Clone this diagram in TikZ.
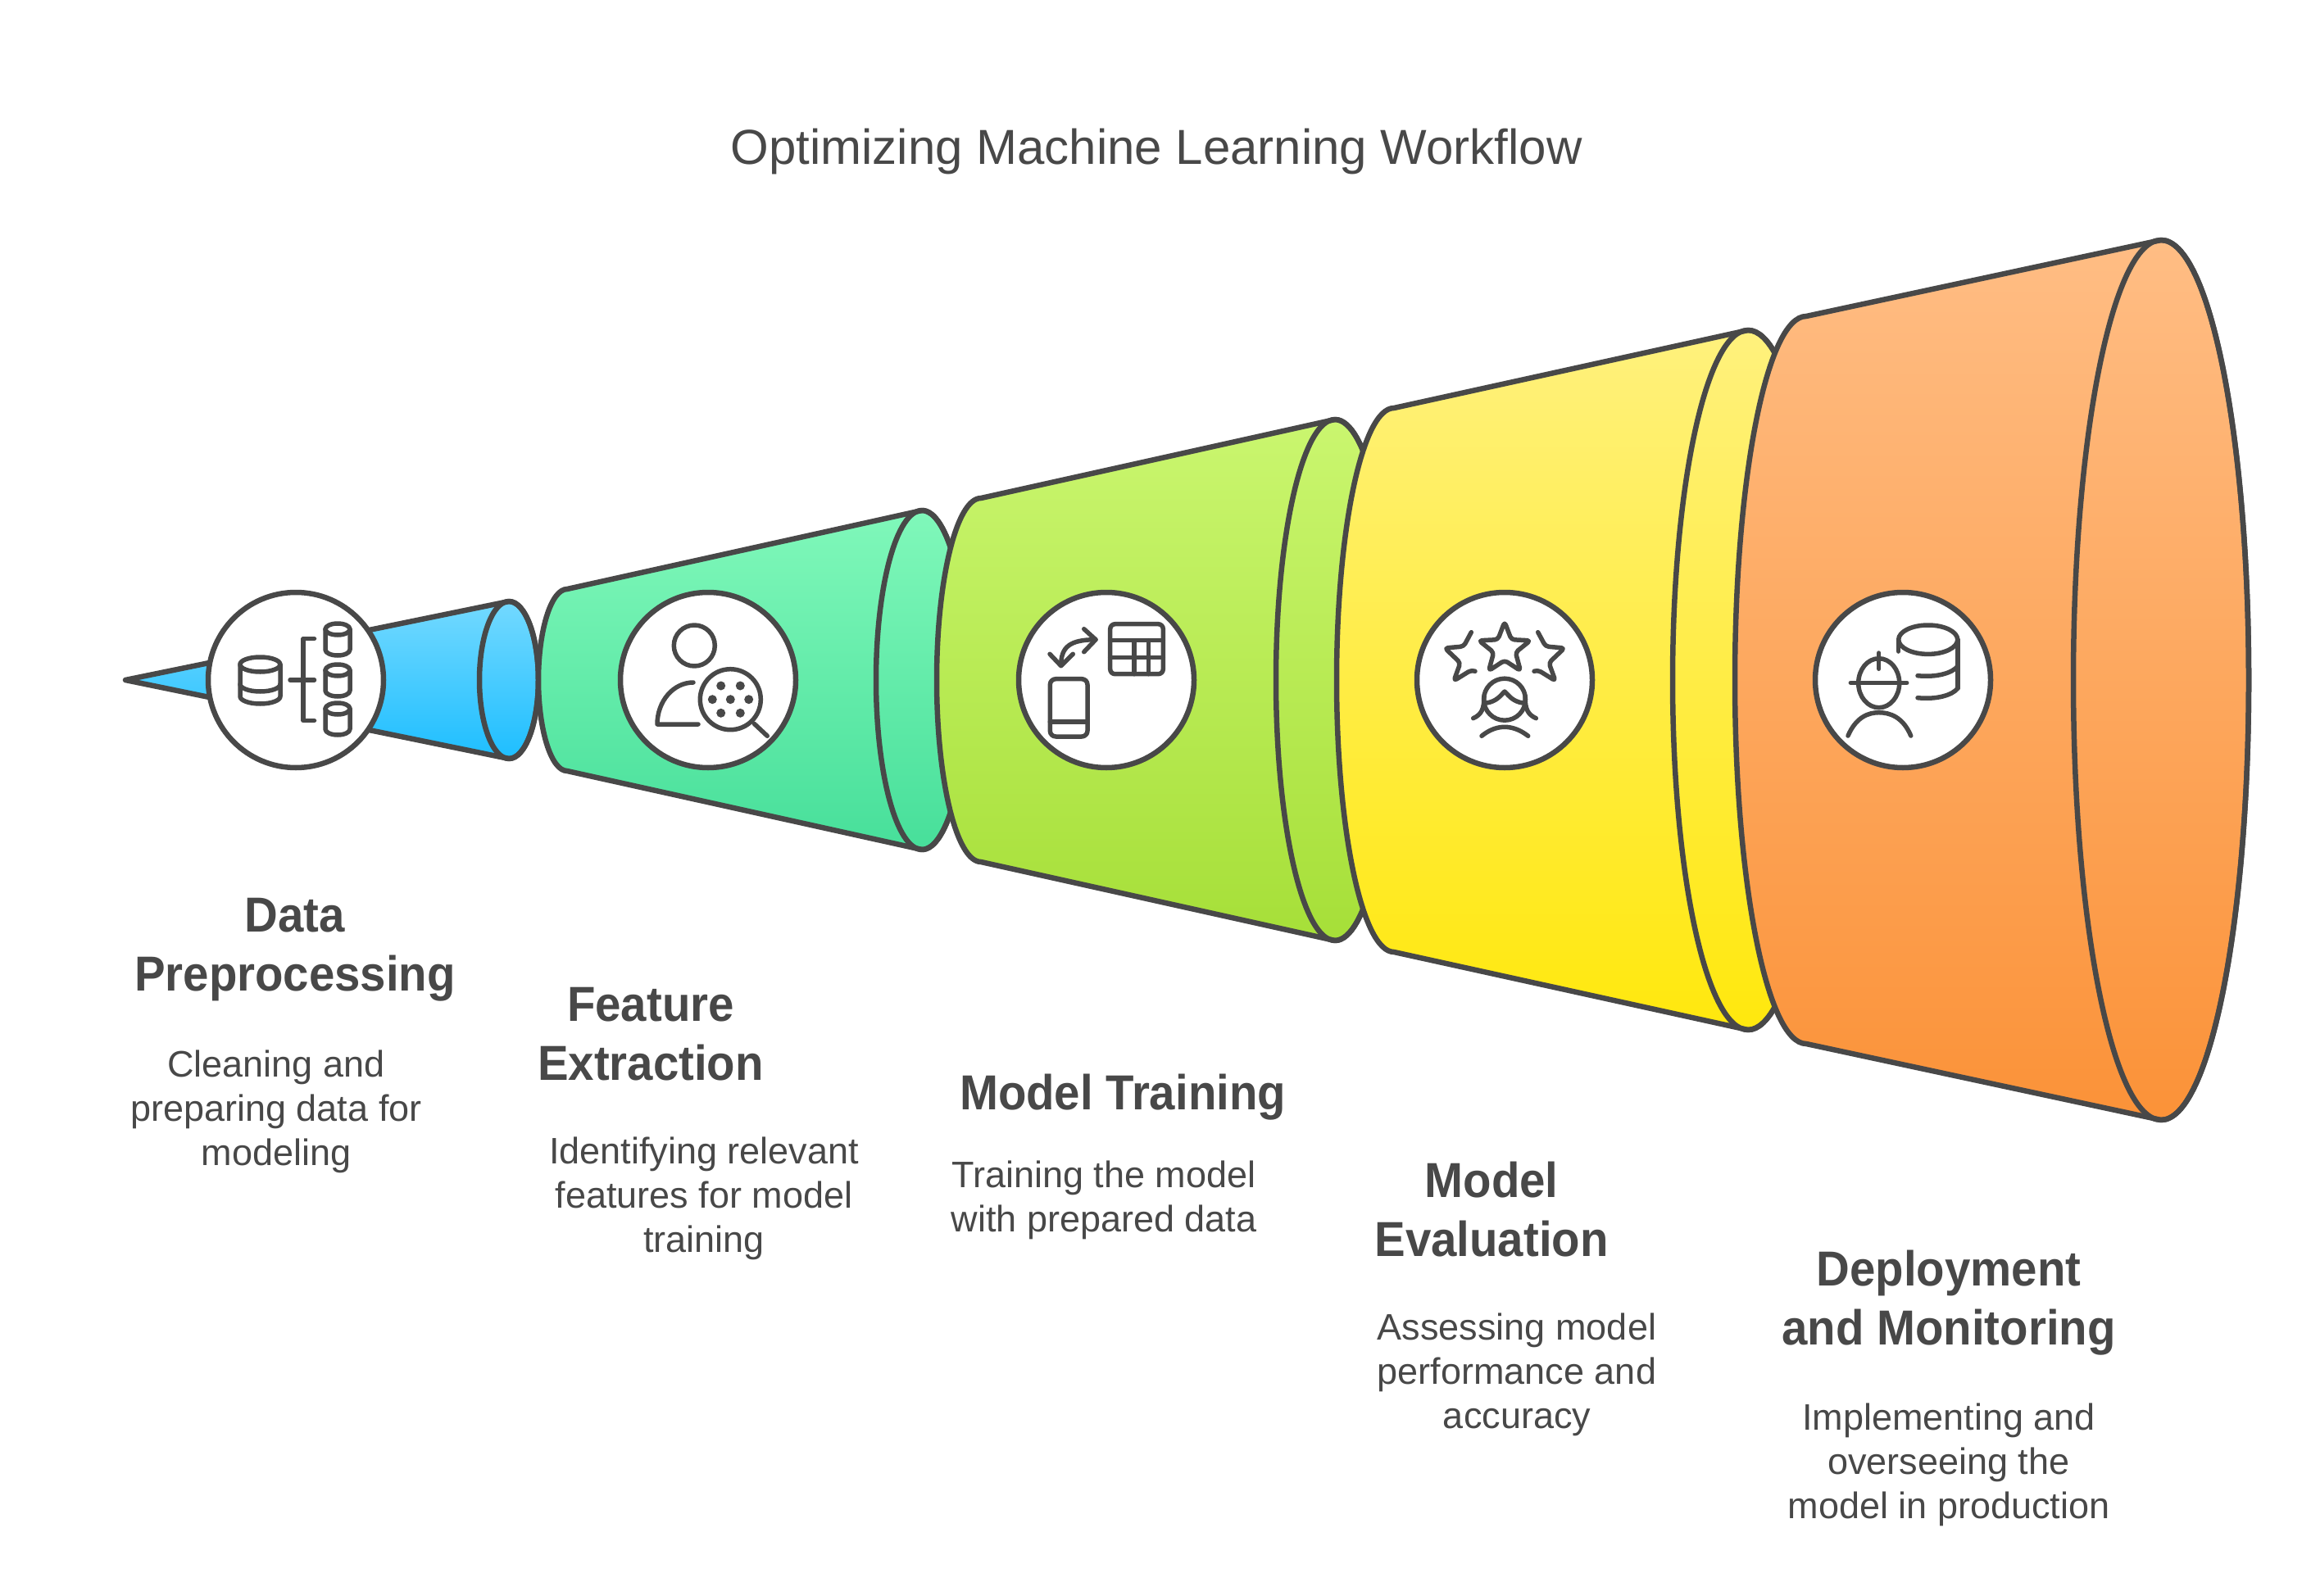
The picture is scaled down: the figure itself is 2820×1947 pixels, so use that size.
\documentclass[tikz,border=0pt]{standalone}
\usepackage{fontspec}
\usepackage{tikz}
\setmainfont{Liberation Sans}
\newfontfamily\headfont[FakeStretch=0.94]{Liberation Sans Bold}
\definecolor{inkgray}{HTML}{484848}
\definecolor{blueTop}{HTML}{73D9FF}
\definecolor{blueBot}{HTML}{1EBEFF}
\definecolor{greenTop}{HTML}{80F8BA}
\definecolor{greenBot}{HTML}{47DF9A}
\definecolor{limeTop}{HTML}{CAF66F}
\definecolor{limeBot}{HTML}{A6DF38}
\definecolor{yellowTop}{HTML}{FFF17D}
\definecolor{yellowBot}{HTML}{FFE80D}
\definecolor{orangeTop}{HTML}{FFBD84}
\definecolor{orangeBot}{HTML}{FB9238}

\begin{document}
\begin{tikzpicture}[x=1pt,y=1pt,node distance=198pt,line join=round]
	\tikzstyle{cone}=[draw=inkgray, line width=6.5pt]
	\tikzstyle{icon circle}=[circle, draw=inkgray, fill=white, line width=6.5pt, minimum size=214pt, inner sep=0pt]
	\tikzstyle{icon}=[draw=inkgray, line width=5.5pt, line cap=round, line join=round]
	\tikzstyle{head}=[align=center, text=inkgray, font=\headfont\fontsize{60}{72}\selectfont]
	\tikzstyle{body}=[align=center, text=inkgray, font=\fontsize{45}{54}\selectfont]

	\useasboundingbox (0,830) rectangle (2820,-1117);

	\foreach \xa/\wa/\ha/\xb/\wb/\hb/\tone in {
		153/0.01/0.01/621/36/96/blue,
		692/35/111/1125/56/207/green,
		1197/54/222/1629/72/318/lime,
		1701/70/332/2133/92/427/yellow,
		2204/87/444/2637/107/537/orange}
	{
		\path[cone,top color=\tone Top,bottom color=\tone Bot] (\xa,\ha) -- (\xb,\hb)
			arc[start angle=90,end angle=-90,x radius=\wb,y radius=\hb] -- (\xa,-\ha)
			arc[start angle=270,end angle=90,x radius=\wa,y radius=\ha] -- cycle;
		\draw[cone] (\xb,0) ellipse[x radius=\wb,y radius=\hb];
	}

	\node [icon circle] (prep) at (361,0) {};
	\node [icon circle] (feat) at (864,0) {};
	\node [icon circle] (train) at (1350,0) {};
	\node [icon circle] (eval) at (1836,0) {};
	\node [icon circle] (deploy) at (2322,0) {};

	\begin{scope}[shift={(prep.center)}]
		\draw[icon] (-43.6,19) ellipse[x radius=24.5,y radius=9];
		\draw[icon] (-68,19) -- (-68,-20) arc[start angle=180,end angle=360,x radius=24.5,y radius=9] -- (-19,19);
		\draw[icon] (-68,-5) arc[start angle=180,end angle=360,x radius=24.5,y radius=9];
		\draw[icon] (22.5,50.5) -- (9,50.5) -- (9,-49.5) -- (22.5,-49.5);
		\draw[icon] (-7,0) -- (22.5,0);
		\foreach \cy in {62,12,-35} {
			\draw[icon] (51,\cy) ellipse[x radius=15,y radius=7];
			\draw[icon] (36,\cy) -- (36,\cy-25) arc[start angle=180,end angle=360,x radius=15,y radius=7] -- (66,\cy);
		}
	\end{scope}

	\begin{scope}[shift={(feat.center)}]
		\draw[icon] (-16.7,42) circle (25);
		\draw[icon] (-12,-54) -- (-62,-54) arc[start angle=180,end angle=90,x radius=44,y radius=51];
		\draw[icon] (27.3,-23.7) circle (37);
		\draw[icon] (56.3,-53.3) -- (72.3,-68.3);
		\foreach \dx/\dy in {15.7/-7,39.3/-7,5.3/-23.7,27.3/-23.7,49.7/-23.7,15.7/-40.3,39.3/-40.3}
			\fill[inkgray] (\dx,\dy) circle (5.5);
	\end{scope}

	\begin{scope}[shift={(train.center)}]
		\draw[icon,rounded corners=6pt] (4.7,7.3) rectangle (69.3,68.3);
		\draw[icon] (4.7,48.3) -- (69.3,48.3) (4.7,27.7) -- (69.3,27.7);
		\draw[icon] (34,48.3) -- (34,7.3) (51.3,48.3) -- (51.3,7.3);
		\draw[icon,rounded corners=7pt] (-68.7,-69) rectangle (-23,1.3);
		\draw[icon] (-68.7,-51) -- (-23,-51);
		\draw[icon] (-27.3,62.3) -- (-13,49.3) -- (-27.3,34.3);
		\draw[icon] (-69,31.7) -- (-55.3,17.3) -- (-40.7,31.7);
		\draw[icon] (-55.3,18) .. controls (-55.3,40) and (-45,49.3) .. (-13,49.3);
	\end{scope}

	\begin{scope}[shift={(eval.center)}]
		\draw[icon,rounded corners=4pt] (0,38)+(90:33) -- +(54:14) -- +(18:33) -- +(-18:14) -- +(-54:33) -- +(-90:14) -- +(-126:33) -- +(-162:14) -- +(162:33) -- +(126:14) -- cycle;
		\foreach \sx in {1,-1} {
			\draw[icon,rounded corners=4pt,xscale=\sx] (-40.7,58.3) -- (-50,41) -- (-73,39) -- (-54,21) -- (-62,-1) -- (-41,12) -- (-36,10.7);
			\draw[icon] (\sx*25,-20) .. controls (\sx*25,-35) and (\sx*28,-42) .. (\sx*38.3,-46.7);
		}
		\draw[icon] (0,-23.7) circle (25.5);
		\draw[icon] (-22,-28) .. controls (-10,-26) and (-6,-20) .. (0,-14) .. controls (6,-20) and (10,-26) .. (22,-28);
		\draw[icon] (-28,-68.3) .. controls (-18,-60) and (-8,-57.3) .. (0,-57.3) .. controls (8,-57.3) and (18,-60) .. (28.7,-68.3);
	\end{scope}

	\begin{scope}[shift={(deploy.center)}]
		\draw[icon] (-29.3,-3.7) ellipse[x radius=25,y radius=30];
		\draw[icon] (-63.7,-3.3) -- (4.7,-3.3);
		\draw[icon] (-29.3,33) -- (-29.3,13.7);
		\draw[icon] (-67,-68) .. controls (-57,-45) and (-42,-39.7) .. (-29.3,-39.7) .. controls (-16,-39.7) and (0,-45) .. (9.7,-68);
		\draw[icon] (30.7,49.3) ellipse[x radius=36,y radius=17.7];
		\draw[icon] (-5.3,49.3) -- (-5.3,35);
		\draw[icon] (67,49.3) -- (67,-10);
		\draw[icon] (18,5.3) .. controls (40,3) and (60,8) .. (67,17);
		\draw[icon] (18,-21.7) .. controls (40,-24) and (60,-19) .. (67,-10);
	\end{scope}

	\node [text=inkgray,font=\fontsize{60}{72}\selectfont] (chart title) at (1411,645) {Optimizing Machine Learning Workflow};

	\node [head] (prep head) at (360,-329) {Data\\Preprocessing};
	\node [body] (prep text) [below of=prep head, xshift=-23pt] {Cleaning and\\preparing data for\\modeling};

	\node [head] (feat head) at (794,-432) {Feature\\Extraction};
	\node [body] (feat text) [below of=feat head, node distance=201pt, xshift=65pt] {Identifying relevant\\features for model\\training};

	\node [head] (train head) at (1370,-509) {Model Training};
	\node [body] (train text) [below of=train head, node distance=126pt, xshift=-23pt] {Training the model\\with prepared data};

	\node [head] (eval head) at (1820,-646) {Model\\Evaluation};
	\node [body] (eval text) [below of=eval head, node distance=202pt, xshift=31pt] {Assessing model\\performance and\\accuracy};

	\node [head] (deploy head) at (2378,-760) {Deployment\\and Monitoring};
	\node [body] (deploy text) [below of=deploy head] {Implementing and\\overseeing the\\model in production};
\end{tikzpicture}
\end{document}
